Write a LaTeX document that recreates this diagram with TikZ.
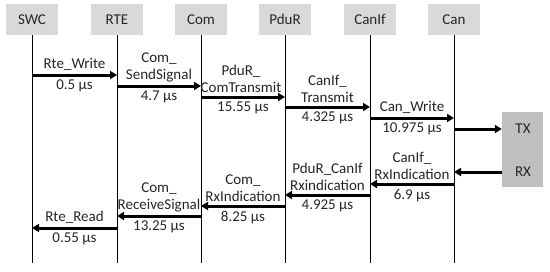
\documentclass[tikz,border=0pt]{standalone}
\usepackage{fontspec}
\setmainfont{Carlito}
\usetikzlibrary{arrows.meta}
\definecolor{headgray}{HTML}{D9D9D9}
\definecolor{busgray}{HTML}{BFBFBF}
\definecolor{ink}{HTML}{262626}
\begin{document}
\begin{tikzpicture}[x=1pt, y=-1pt, >={Triangle[length=7pt, width=8pt]},
  head/.style={fill=headgray, minimum width=52pt, minimum height=31pt, inner sep=0pt,
    text=ink, font=\fontsize{15}{17}\selectfont},
  life/.style={line width=1pt},
  msg/.style={->, line width=3pt},
  lbl/.style={align=center, inner sep=0pt, text=ink, font=\fontsize{15}{17}\selectfont}]
\useasboundingbox (0,0) rectangle (550,271);
\node[head] (swc) at (32,19.5) {SWC};
\node[head] (rte) at (117,19.5) {RTE};
\node[head] (com) at (201,19.5) {Com};
\node[head] (pdur) at (285,19.5) {PduR};
\node[head] (canif) at (370,19.5) {CanIf};
\node[head] (can) at (454,19.5) {Can};
\node[fill=busgray, minimum width=41pt, minimum height=75pt, inner sep=0pt] (bus) at (522.5,149.5) {};
\node[lbl] (tx) at (523,129) {TX};
\node[lbl] (rx) at (523,172) {RX};
% lifelines
\draw[life] (swc.south) -- ++(0,228);
\draw[life] (rte.south) -- ++(0,228);
\draw[life] (com.south) -- ++(0,228);
\draw[life] (pdur.south) -- ++(0,228);
\draw[life] (canif.south) -- ++(0,228);
\draw[life] (can.south) -- ++(0,228);
% transmit path
\draw[msg] (swc |- 0,75) -- (rte |- 0,75);
\node[lbl, anchor=south] (w1) at (74.5,71) {Rte\_Write};
\node[lbl, anchor=north] (d1) at (74.5,80) {0.5 µs};
\draw[msg] (rte |- 0,86) -- (com |- 0,86);
\node[lbl, anchor=south] (w2) at (159,82) {Com\_\\SendSignal};
\node[lbl, anchor=north] (d2) at (159,91) {4.7 µs};
\draw[msg] (com |- 0,97) -- (pdur |- 0,97);
\node[lbl, anchor=south] (w3) at (241,93) {PduR\_\\ComTransmit};
\node[lbl, anchor=north] (d3) at (243,102) {15.55 µs};
\draw[msg] (pdur |- 0,107) -- (canif |- 0,107);
\node[lbl, anchor=south] (w4) at (327.5,103) {CanIf\_\\Transmit};
\node[lbl, anchor=north] (d4) at (327.5,112) {4.325 µs};
\draw[msg] (canif |- 0,118) -- (can |- 0,118);
\node[lbl, anchor=south] (w5) at (412,114) {Can\_Write};
\node[lbl, anchor=north] (d5) at (412,123) {10.975 µs};
\draw[msg] (can |- tx) -- (bus.west |- tx);
% receive path
\draw[msg] (bus.west |- rx) -- (can |- rx);
\draw[msg] (can |- 0,184) -- (canif |- 0,184);
\node[lbl, anchor=south] (r1) at (412,180) {CanIf\_\\RxIndication};
\node[lbl, anchor=north] (e1) at (412,189) {6.9 µs};
\draw[msg] (canif |- 0,195) -- (pdur |- 0,195);
\node[lbl, anchor=south] (r2) at (327.5,191) {PduR\_CanIf\\Rxindication};
\node[lbl, anchor=north] (e2) at (327.5,200) {4.925 µs};
\draw[msg] (pdur |- 0,206) -- (com |- 0,206);
\node[lbl, anchor=south] (r3) at (243,202) {Com\_\\RxIndication};
\node[lbl, anchor=north] (e3) at (243,211) {8.25 µs};
\draw[msg] (com |- 0,216) -- (rte |- 0,216);
\node[lbl, anchor=south] (r4) at (159,212) {Com\_\\ReceiveSignal};
\node[lbl, anchor=north] (e4) at (159,221) {13.25 µs};
\draw[msg] (rte |- 0,228) -- (swc |- 0,228);
\node[lbl, anchor=south] (r5) at (74.5,224) {Rte\_Read};
\node[lbl, anchor=north] (e5) at (74.5,233) {0.55 µs};
\end{tikzpicture}
\end{document}
